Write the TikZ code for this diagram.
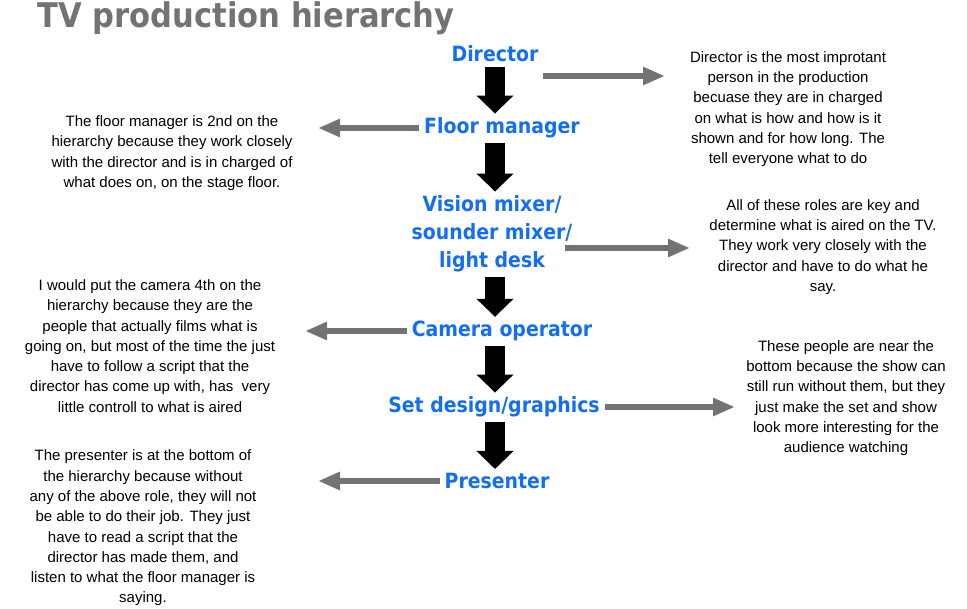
\documentclass[tikz,border=0pt]{standalone}
\usepackage{fontspec}
\setmainfont{Liberation Sans}
\newfontfamily\condfont{DejaVu Sans Condensed}[BoldFont={DejaVu Sans Condensed Bold}]
\usetikzlibrary{arrows.meta}
\definecolor{lblblue}{RGB}{20,110,240}
\definecolor{arrgray}{RGB}{115,115,115}
\begin{document}
\begin{tikzpicture}[x=1pt,y=-1pt,
  role/.style={font=\condfont\bfseries\fontsize{21}{28}\selectfont,text=lblblue,align=center,inner sep=1pt},
  note/.style={font=\fontsize{15}{20.3}\selectfont,align=center,inner sep=0pt},
  down/.style={line width=20pt,-{Triangle[length=18pt,width=36pt]},shorten <=4pt,shorten >=3pt},
  side/.style={line width=6pt,arrgray,-{Triangle[length=22pt,width=17pt]}}]
\useasboundingbox (0,0) rectangle (967,609);
\node[font=\condfont\bfseries\fontsize{34}{36}\selectfont,text=arrgray,anchor=west] (title) at (34,18) {TV production hierarchy};
\node[role] (dir) at (495,54) {Director};
\node[role] (floor) at (502,128) {Floor manager};
\node[role] (vis) at (492,234) {Vision mixer/\\sounder mixer/\\light desk};
\node[role] (cam) at (502,331) {Camera operator};
\node[role] (set) at (494,407) {Set design/graphics};
\node[role] (pres) at (497,481) {Presenter};
\draw[down] (dir.south -| 495,0) -- (floor.north -| 495,0);
\draw[down] (floor.south -| 495,0) -- (vis.north -| 495,0);
\draw[down] (vis.south -| 495,0) -- (cam.north -| 495,0);
\draw[down] (cam.south -| 495,0) -- (set.north -| 495,0);
\draw[down] (set.south -| 495,0) -- (pres.north -| 495,0);
\node[note] (n1) at (788,109) {Director is the most improtant\\person in the production\\becuase they are in charged\\on what is how and how is it\\shown and for how long. The\\tell everyone what to do};
\node[note] (n2) at (172,153) {The floor manager is 2nd on the\\hierarchy because they work closely\\with the director and is in charged of\\what does on, on the stage floor.};
\node[note] (n3) at (823,247) {All of these roles are key and\\determine what is aired on the TV.\\They work very closely with the\\director and have to do what he\\say.};
\node[note] (n4) at (150,346) {I would put the camera 4th on the\\hierarchy because they are the\\people that actually films what is\\going on, but most of the time the just\\have to follow a script that the\\director has come up with, has\ \ very\\little controll to what is aired};
\node[note] (n5) at (846,398) {These people are near the\\bottom because the show can\\still run without them, but they\\just make the set and show\\look more interesting for the\\audience watching};
\node[note] (n6) at (143,528) {The presenter is at the bottom of\\the hierarchy because without\\any of the above role, they will not\\be able to do their job. They just\\have to read a script that the\\director has made them, and\\listen to what the floor manager is\\saying.};
\coordinate (a1) at (665,76); \coordinate (a2) at (318,128);
\coordinate (a3) at (690,248); \coordinate (a4) at (305,331);
\coordinate (a5) at (735,407); \coordinate (a6) at (318,481);
\draw[side] (543,76) -- (a1);
\draw[side] (floor.west) ++(-4,0) -- (a2);
\draw[side] (565,248) -- (a3);
\draw[side] (cam.west) ++(-4,0) -- (a4);
\draw[side] (set.east) ++(4,0) -- (a5);
\draw[side] (440,481) -- (a6);
\end{tikzpicture}
\end{document}
